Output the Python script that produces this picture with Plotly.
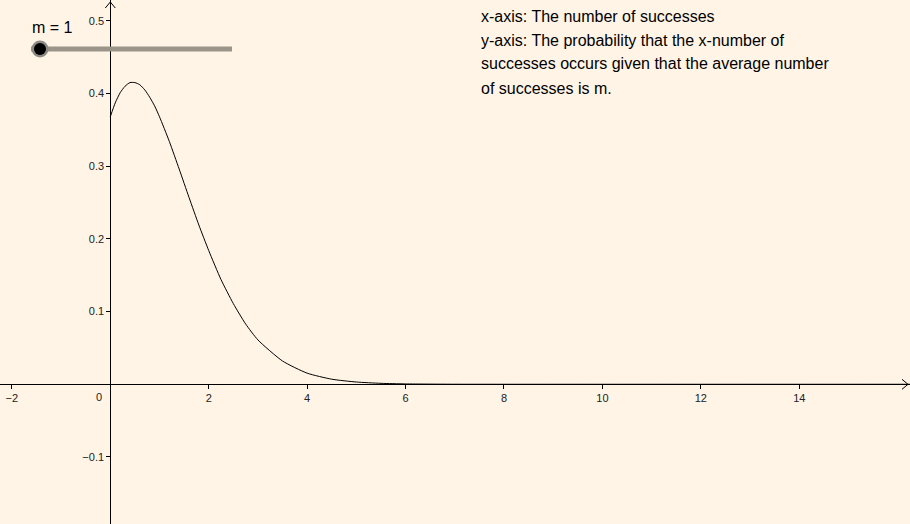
import plotly.graph_objects as go

# Curve (m = 1)
x_vals = [0, 0.1, 0.2, 0.3, 0.4, 0.5, 0.6, 0.7, 0.8, 0.9, 1.0, 1.2, 1.4, 1.6, 1.8,
          2.0, 2.25, 2.5, 2.75, 3.0, 3.5, 4.0, 4.5, 5.0, 5.5, 6.0, 7.0, 8.0, 10.0, 12.0, 14.0, 16.3]
y_vals = [0.368, 0.387, 0.401, 0.410, 0.415, 0.415, 0.412, 0.405, 0.395, 0.383, 0.368,
          0.334, 0.296, 0.257, 0.219, 0.184, 0.144, 0.111, 0.083, 0.061, 0.032, 0.0153,
          0.0070, 0.0031, 0.0013, 0.0005, 0.00007, 0.00001, 0.0, 0.0, 0.0, 0.0]

x_ticks = [-2, 2, 4, 6, 8, 10, 12, 14]
y_ticks = [-0.1, 0.1, 0.2, 0.3, 0.4, 0.5]
x_range = [-2.241, 16.25]
y_range = [-0.1922, 0.5286]

info_lines = [
    "x-axis: The number of successes",
    "y-axis: The probability that the x-number of",
    "successes occurs given that the average number",
    "of successes is m.",
]
slider_label = "m = 1"

W, H = 910, 524
BG = "#fff4e6"
FONT = "Liberation Sans, Arial, sans-serif"


def px(x):
    return x / W


def py(y):
    return 1 - y / H


fig = go.Figure()
fig.add_trace(go.Scatter(x=x_vals, y=y_vals, mode="lines",
                         line=dict(color="black", width=1, shape="spline", smoothing=0.6),
                         hoverinfo="skip", showlegend=False))

x_pos = (0 - y_range[0]) / (y_range[1] - y_range[0])
y_pos = (0 - x_range[0]) / (x_range[1] - x_range[0])

fig.update_layout(
    width=W, height=H,
    margin=dict(l=0, r=0, t=0, b=0),
    paper_bgcolor=BG, plot_bgcolor=BG,
    showlegend=False,
    xaxis=dict(range=x_range, anchor="free", position=x_pos, showline=True,
               linecolor="black", linewidth=1, ticks="outside", ticklen=4,
               tickcolor="black", tickvals=x_ticks, showgrid=False, zeroline=False,
               tickfont=dict(family=FONT, size=11, color="#222"), fixedrange=True),
    yaxis=dict(range=y_range, anchor="free", position=y_pos, showline=True,
               linecolor="black", linewidth=1, ticks="outside", ticklen=4,
               tickcolor="black", tickvals=y_ticks, showgrid=False, zeroline=False,
               tickfont=dict(family=FONT, size=11, color="#222"), fixedrange=True),
)

# origin label
fig.add_annotation(x=0, y=0, xref="x", yref="y", text="0", showarrow=False,
                   xanchor="right", yanchor="top", xshift=-6, yshift=-5,
                   font=dict(family=FONT, size=11, color="#222"))

# axis arrowheads (open chevrons)
ax_y = py(384.3)
fig.add_shape(type="path", xref="paper", yref="paper",
              path=f"M {px(902)} {py(379.3)} L {px(908)} {ax_y} L {px(902)} {py(389.3)}",
              line=dict(color="black", width=1))
ay_x = px(110.3)
fig.add_shape(type="path", xref="paper", yref="paper",
              path=f"M {px(105.3)} {py(8)} L {ay_x} {py(2)} L {px(115.3)} {py(8)}",
              line=dict(color="black", width=1))

# info text
line_centers = [16, 40, 64, 88]
for t, c in zip(info_lines, line_centers):
    fig.add_annotation(x=px(479), y=py(c), xref="paper", yref="paper", text=t,
                       showarrow=False, xanchor="left", yanchor="middle",
                       font=dict(family=FONT, size=16, color="black"))

# slider
fig.add_shape(type="line", xref="paper", yref="paper",
              x0=px(31), x1=px(232), y0=py(49), y1=py(49),
              line=dict(color="#9b9489", width=5))
fig.add_shape(type="circle", xref="paper", yref="paper",
              x0=px(31.5), x1=px(48.5), y0=py(57.5), y1=py(40.5),
              fillcolor="#8d8a86", line=dict(width=0))
fig.add_shape(type="circle", xref="paper", yref="paper",
              x0=px(34), x1=px(46), y0=py(55), y1=py(43),
              fillcolor="black", line=dict(width=0))
fig.add_annotation(x=px(30), y=py(28), xref="paper", yref="paper", text=slider_label,
                   showarrow=False, xanchor="left", yanchor="middle",
                   font=dict(family=FONT, size=16, color="black"))

fig.write_html("out.html", config={"displayModeBar": False},
               post_script="document.body.style.margin='0';document.body.style.overflow='hidden';document.documentElement.style.overflow='hidden';")
